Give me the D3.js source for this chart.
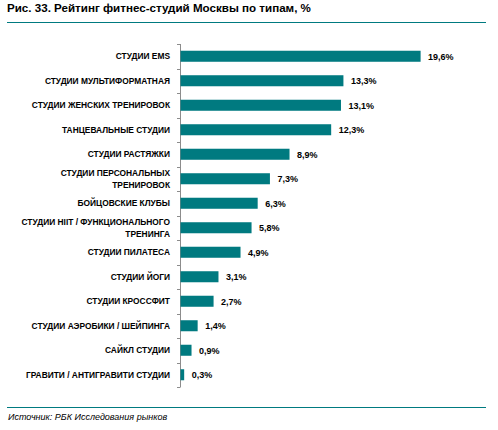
<!DOCTYPE html>
<html>
<head>
<meta charset="utf-8">
<script src="https://cdn.jsdelivr.net/npm/d3@7"></script>
<style>
  body { margin: 0; background: #fff; }
</style>
</head>
<body>
<svg id="chart"></svg>
<script>
// Chart data
const categories = [
    "СТУДИИ EMS",
    "СТУДИИ МУЛЬТИФОРМАТНАЯ",
    "СТУДИИ ЖЕНСКИХ ТРЕНИРОВОК",
    "ТАНЦЕВАЛЬНЫЕ СТУДИИ",
    "СТУДИИ РАСТЯЖКИ",
    "СТУДИИ ПЕРСОНАЛЬНЫХ|ТРЕНИРОВОК",
    "БОЙЦОВСКИЕ КЛУБЫ",
    "СТУДИИ HIIT / ФУНКЦИОНАЛЬНОГО|ТРЕНИНГА",
    "СТУДИИ ПИЛАТЕСА",
    "СТУДИИ ЙОГИ",
    "СТУДИИ КРОССФИТ",
    "СТУДИИ АЭРОБИКИ / ШЕЙПИНГА",
    "САЙКЛ СТУДИИ",
    "ГРАВИТИ / АНТИГРАВИТИ СТУДИИ"
];
const values = [19.6, 13.3, 13.1, 12.3, 8.9, 7.3, 6.3, 5.8, 4.9, 3.1, 2.7, 1.4, 0.9, 0.3];

const titleText = "Рис. 33. Рейтинг фитнес-студий Москвы по типам, %";
const sourceText = "Источник: РБК Исследования рынков";

const width = 498;
const height = 430;
const teal = "#007a80";
const font = "'Liberation Sans Narrow', 'Liberation Sans', sans-serif";

const svg = d3.select("#chart")
    .attr("width", width)
    .attr("height", height)
    .style("font-family", font);

// Title + rules
svg.append("text")
    .attr("x", 7)
    .attr("y", 12)
    .style("font-size", "11.6px")
    .style("font-weight", "bold")
    .attr("fill", "#000")
    .text(titleText);

svg.append("line")
    .attr("x1", 7).attr("x2", 486)
    .attr("y1", 22.5).attr("y2", 22.5)
    .attr("stroke", teal).attr("stroke-width", 1);

svg.append("line")
    .attr("x1", 7).attr("x2", 486)
    .attr("y1", 407.5).attr("y2", 407.5)
    .attr("stroke", teal).attr("stroke-width", 1);

svg.append("text")
    .attr("x", 8)
    .attr("y", 420)
    .style("font-size", "9px")
    .style("font-style", "italic")
    .attr("fill", "#000")
    .text(sourceText);

// Scales
const x = d3.scaleLinear().domain([0, 20]).range([180, 425]);
const y = d3.scaleBand()
    .domain(categories)
    .range([44, 387])
    .paddingInner(0.55)
    .paddingOuter(0.275);

// Axis line with ticks at band boundaries
const axisG = svg.append("g");
axisG.append("line")
    .attr("x1", 180.5).attr("x2", 180.5)
    .attr("y1", 44).attr("y2", 387)
    .attr("stroke", "#8c8c8c");

const boundaries = d3.range(categories.length + 1).map(i => 44 + i * (343 / categories.length));
axisG.selectAll(".tick")
    .data(boundaries)
    .join("line")
    .attr("x1", 177).attr("x2", 180.5)
    .attr("y1", d => Math.round(d) + 0.5)
    .attr("y2", d => Math.round(d) + 0.5)
    .attr("stroke", "#8c8c8c");

// Bars
svg.selectAll(".bar")
    .data(categories)
    .join("rect")
    .attr("class", "bar")
    .attr("x", x(0) + 0.5)
    .attr("y", d => y(d))
    .attr("width", (d, i) => x(values[i]) - x(0))
    .attr("height", y.bandwidth())
    .attr("fill", teal);

// Category labels (may wrap to two lines)
const labels = svg.selectAll(".cat")
    .data(categories)
    .join("text")
    .attr("class", "cat")
    .attr("text-anchor", "end")
    .style("font-size", "8.4px")
    .style("font-weight", "bold")
    .attr("fill", "#000");

labels.each(function(d) {
    const lines = d.split("|");
    const cy = y(d) + y.bandwidth() / 2;
    const lh = 12;
    const top = cy - (lines.length - 1) * lh / 2 + 3;
    lines.forEach((ln, k) => {
        d3.select(this).append("tspan")
            .attr("x", 170)
            .attr("y", top + k * lh)
            .text(ln);
    });
});

// Value labels
svg.selectAll(".val")
    .data(categories)
    .join("text")
    .attr("class", "val")
    .attr("x", (d, i) => x(values[i]) + 8)
    .attr("y", d => y(d) + y.bandwidth() / 2 + 3.5)
    .style("font-size", "9px")
    .style("font-weight", "bold")
    .attr("fill", "#000")
    .text((d, i) => d3.format(".1f")(values[i]).replace(".", ",") + "%");
</script>
</body>
</html>
